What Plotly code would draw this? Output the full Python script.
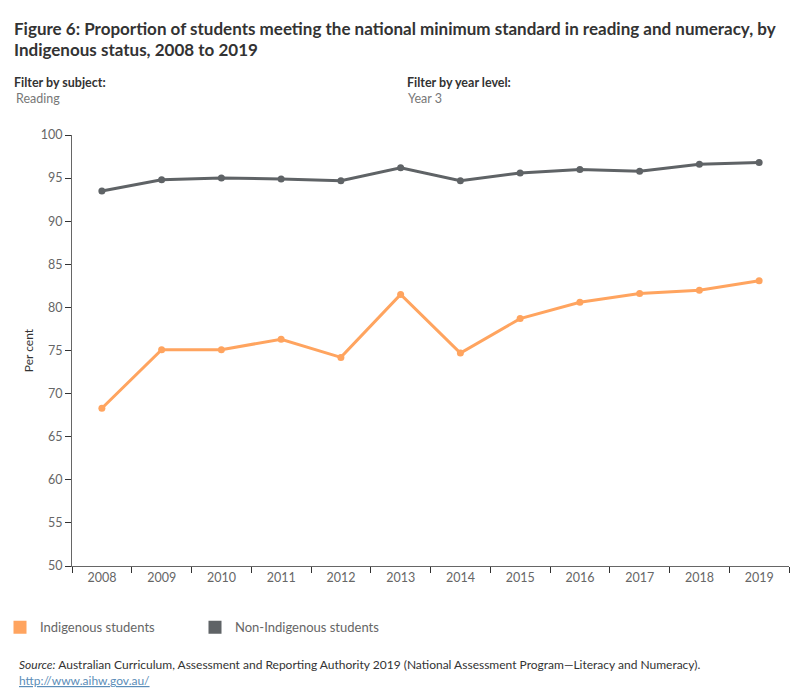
import plotly.graph_objects as go

years = ["2008", "2009", "2010", "2011", "2012", "2013", "2014", "2015", "2016", "2017", "2018", "2019"]
indigenous = [68.3, 75.1, 75.1, 76.3, 74.2, 81.5, 74.7, 78.7, 80.6, 81.6, 82.0, 83.1]
non_indigenous = [93.5, 94.8, 95.0, 94.9, 94.7, 96.2, 94.7, 95.6, 96.0, 95.8, 96.6, 96.8]
series_names = ["Indigenous students", "Non-Indigenous students"]
y_ticks = [50, 55, 60, 65, 70, 75, 80, 85, 90, 95, 100]

ORANGE = "#FFA45F"
GREY = "#5F6366"
FONT = "Lato, 'Open Sans', sans-serif"

fig = go.Figure()
for name, vals, col in [(series_names[0], indigenous, ORANGE), (series_names[1], non_indigenous, GREY)]:
    fig.add_trace(go.Scatter(
        x=years, y=vals, mode="lines+markers", name=name,
        line=dict(color=col, width=3), marker=dict(color=col, size=7),
        showlegend=False,
        hovertemplate="%{x}: %{y}<extra>" + name + "</extra>",
    ))
    fig.add_trace(go.Scatter(
        x=[None], y=[None], mode="markers", name=name,
        marker=dict(color=col, size=13, symbol="square"),
        showlegend=True,
    ))

fig.update_layout(
    width=800, height=700,
    margin=dict(l=72, r=11, t=135, b=134),
    paper_bgcolor="white", plot_bgcolor="white",
    font=dict(family=FONT, color="#555555", size=12),
    legend=dict(
        orientation="h", xref="container", yref="container",
        x=-0.004, y=0.104, xanchor="left", yanchor="middle",
        entrywidth=150, entrywidthmode="pixels", itemwidth=30,
        font=dict(size=13, color="#666666"), itemsizing="trace",
    ),
    xaxis=dict(
        type="category", range=[-0.5, 11.5], tickson="boundaries",
        ticks="outside", ticklen=6, tickcolor="#333333",
        showline=True, linecolor="#666666", linewidth=1,
        showgrid=False, zeroline=False,
        tickfont=dict(size=12.5, color="#666666"),
    ),
    yaxis=dict(
        range=[50, 100], tickvals=y_ticks,
        ticks="outside", ticklen=6, tickcolor="#333333",
        showline=True, linecolor="#666666", linewidth=1,
        showgrid=False, zeroline=False,
        tickfont=dict(size=12.5, color="#666666"),
        title=dict(text="Per cent", font=dict(size=12, color="#333333"), standoff=4),
    ),
)

ann = [
    dict(text="<b>Figure 6: Proportion of students meeting the national minimum standard in reading and numeracy, by</b>",
         x=12, y=28, size=17, color="#333333"),
    dict(text="<b>Indigenous status, 2008 to 2019</b>", x=12, y=49, size=17, color="#333333"),
    dict(text="<b>Filter by subject:</b>", x=12, y=82, size=12.5, color="#333333"),
    dict(text="Reading", x=14, y=99, size=12.5, color="#777777"),
    dict(text="<b>Filter by year level:</b>", x=405, y=82, size=12.5, color="#333333"),
    dict(text="Year 3", x=406, y=99, size=12.5, color="#777777"),
    dict(text="<i>Source:</i> Australian Curriculum, Assessment and Reporting Authority 2019 (National Assessment Program\u2014Literacy and Numeracy).",
         x=17, y=664, size=12, color="#333333"),
    dict(text="<span style='text-decoration:underline'>http://www.aihw.gov.au/</span>", x=17, y=680, size=12, color="#5B8DB8"),
]
for a in ann:
    fig.add_annotation(
        text=a["text"], xref="paper", yref="paper",
        x=(a["x"] - 72) / 717, y=1 - (a["y"] - 135) / 431,
        xanchor="left", yanchor="middle", showarrow=False,
        font=dict(size=a["size"], color=a["color"], family=FONT),
    )

fig.write_html("out.html")
